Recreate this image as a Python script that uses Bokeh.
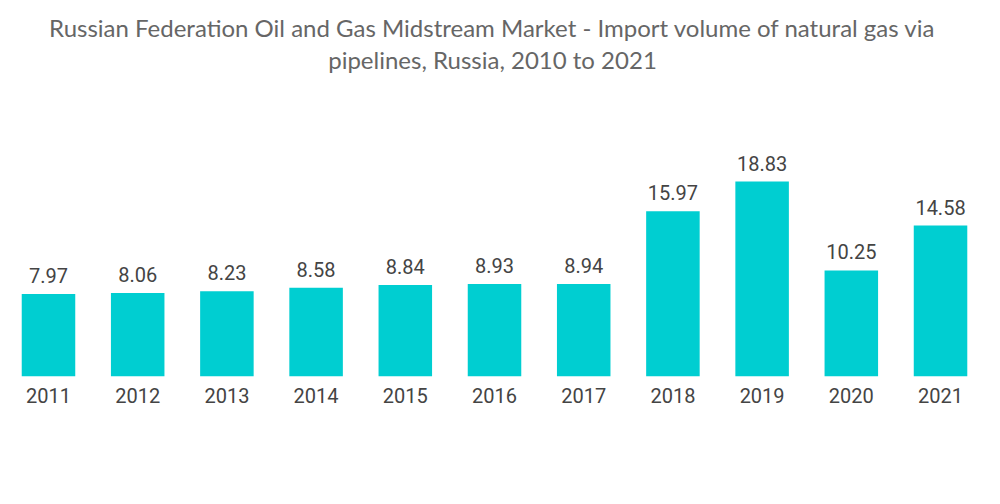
from bokeh.plotting import figure
from bokeh.models import ColumnDataSource, Range1d, FixedTicker, Title, LabelSet
from bokeh.core.properties import value
from bokeh.embed import file_html
from bokeh.resources import INLINE

years = ["2011", "2012", "2013", "2014", "2015", "2016", "2017", "2018", "2019", "2020", "2021"]
values = [7.97, 8.06, 8.23, 8.58, 8.84, 8.93, 8.94, 15.97, 18.83, 10.25, 14.58]
title_lines = ["Russian Federation Oil and Gas Midstream Market - Import volume of natural gas via",
               "pipelines, Russia, 2010 to 2021"]

xs = list(range(len(years)))
src = ColumnDataSource(dict(x=xs, top=values, lbl=[f"{v:.2f}" for v in values]))

p = figure(width=984, height=488, output_backend="svg", toolbar_location=None,
           x_range=Range1d(-0.538, 10.493), y_range=Range1d(0, 29.18),
           min_border_left=0, min_border_right=0, min_border_top=74, min_border_bottom=112)
p.title = None
for line, so in reversed(list(zip(title_lines, [0, 2]))):
    p.add_layout(Title(text=line, align="center", text_font="Lato", text_font_size="24px",
                       text_font_style="normal", text_color="#666666", standoff=so), "above")

p.vbar(x="x", top="top", width=0.6, bottom=0, source=src, color="#00CED1", line_color=None)
p.add_layout(LabelSet(x="x", y="top", text="lbl", source=src, text_align="center",
                      text_baseline="bottom", y_offset=11, text_font=value("Roboto"),
                      text_font_size=value("20px"), text_color=value("#444444")))

p.yaxis.visible = False
p.xaxis.ticker = FixedTicker(ticks=xs)
p.xaxis.major_label_overrides = {i: y for i, y in enumerate(years)}
p.xaxis.axis_line_color = None
p.xaxis.major_tick_line_color = None
p.xaxis.minor_tick_line_color = None
p.xaxis.major_label_text_font = "Roboto"
p.xaxis.major_label_text_font_size = "20px"
p.xaxis.major_label_text_color = "#444444"
p.xaxis.major_label_standoff = 5
p.xgrid.visible = False
p.ygrid.visible = False
p.outline_line_color = None
p.background_fill_color = "white"

open("out.html", "w").write(file_html(p, INLINE))
